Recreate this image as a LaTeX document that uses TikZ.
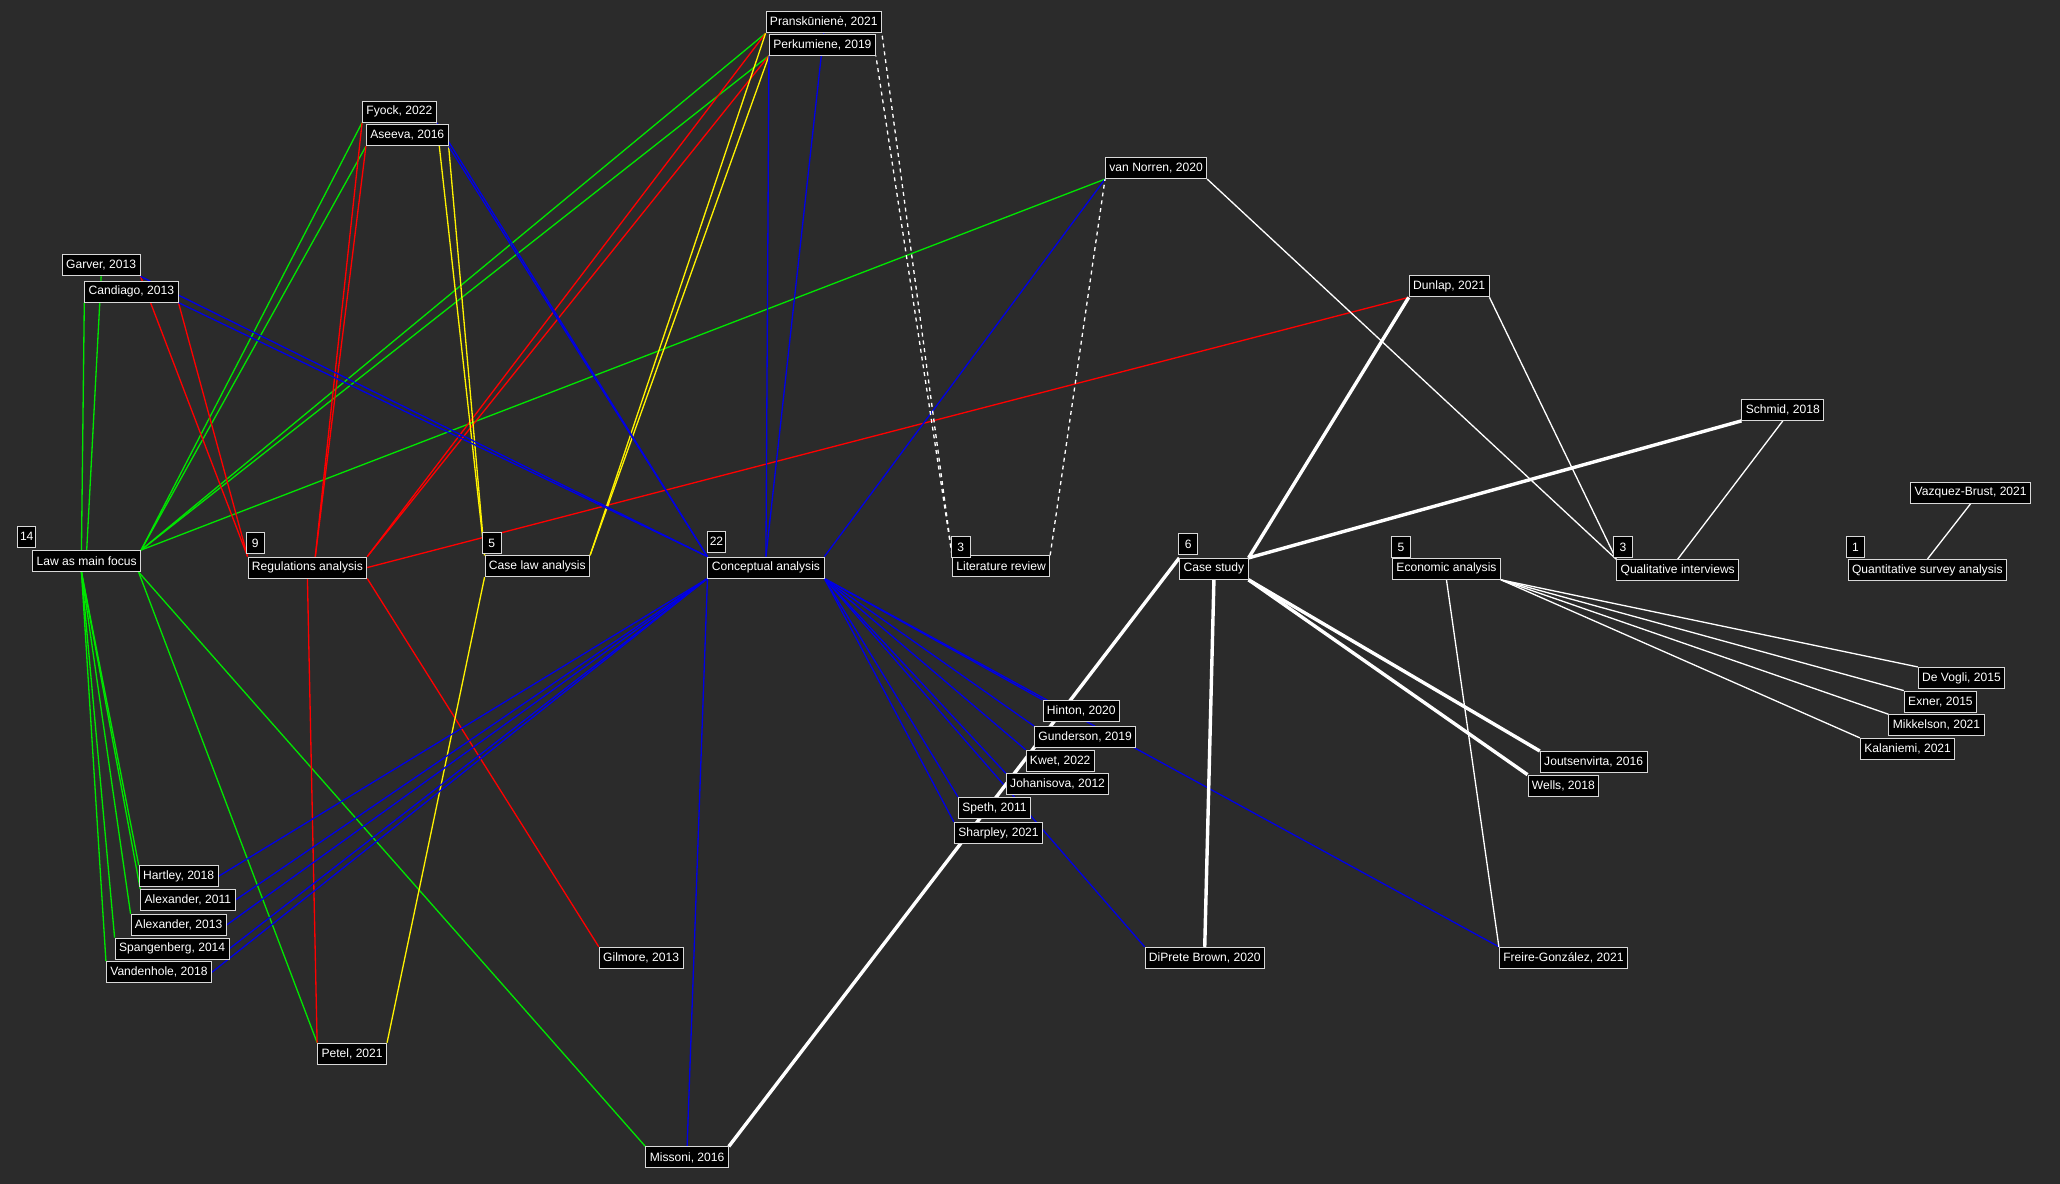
\documentclass[tikz,border=0pt]{standalone}
\usepackage{fontspec}
\setmainfont{Liberation Sans}
\usetikzlibrary{backgrounds}
\begin{document}
\begin{tikzpicture}[x=1pt,y=-1pt,
 nd/.style={draw=white!85!black,fill=black,text=white,font=\fontsize{9.2}{10}\selectfont,inner xsep=3pt,inner ysep=0pt,minimum height=16pt,line width=0.7pt},
 bd/.style={nd,minimum width=14pt,inner xsep=1.5pt,anchor=north west},
 gr/.style={draw={rgb,255:red,0;green,230;blue,0},line width=1pt},
 rd/.style={draw=red,line width=1pt},
 yl/.style={draw=yellow,line width=1pt},
 bl/.style={draw={rgb,255:red,0;green,0;blue,230},line width=1pt},
 wd/.style={draw=white,line width=1pt,dashed},
 wt/.style={draw=white,line width=2.6pt},
 wn/.style={draw=white,line width=1pt}]
% nodes
\node[nd] (pra) at (627,17) {Pranskūnienė, 2021};
\node[nd] (per) at (626,34) {Perkumiene, 2019};
\node[nd] (fyo) at (304,85) {Fyock, 2022};
\node[nd] (ase) at (310,103) {Aseeva, 2016};
\node[nd] (van) at (880,128) {van Norren, 2020};
\node[nd] (gar) at (77,202) {Garver, 2013};
\node[nd] (can) at (100,222) {Candiago, 2013};
\node[nd] (dun) at (1103,218) {Dunlap, 2021};
\node[nd] (sch) at (1357,312) {Schmid, 2018};
\node[nd] (vaz) at (1500,375) {Vazquez-Brust, 2021};
\node[nd] (law) at (66,427) {Law as main focus};
\node[nd] (reg) at (234,432) {Regulations analysis};
\node[nd] (cla) at (409,431) {Case law analysis};
\node[nd] (con) at (583,432) {Conceptual analysis};
\node[nd] (lit) at (762,431) {Literature review};
\node[nd] (cas) at (924,433) {Case study};
\node[nd] (eco) at (1101,433) {Economic analysis};
\node[nd] (qua) at (1277,434) {Qualitative interviews};
\node[nd] (qsa) at (1467,434) {Quantitative survey analysis};
\node[nd] (dev) at (1493,516) {De Vogli, 2015};
\node[nd] (exn) at (1477,534) {Exner, 2015};
\node[nd] (mik) at (1474,552) {Mikkelson, 2021};
\node[nd] (kal) at (1452,570) {Kalaniemi, 2021};
\node[nd] (hin) at (823,541) {Hinton, 2020};
\node[nd] (gun) at (826,561) {Gunderson, 2019};
\node[nd] (kwe) at (807,579) {Kwet, 2022};
\node[nd] (joh) at (805,597) {Johanisova, 2012};
\node[nd] (jou) at (1213,580) {Joutsenvirta, 2016};
\node[nd] (wel) at (1190,598) {Wells, 2018};
\node[nd] (spe) at (757,615) {Speth, 2011};
\node[nd] (sha) at (760,634) {Sharpley, 2021};
\node[nd] (har) at (136,667) {Hartley, 2018};
\node[nd] (ala) at (143,685) {Alexander, 2011};
\node[nd] (alb) at (136,704) {Alexander, 2013};
\node[nd] (spa) at (131,722) {Spangenberg, 2014};
\node[nd] (vnd) at (121,740) {Vandenhole, 2018};
\node[nd] (gil) at (488,729) {Gilmore, 2013};
\node[nd] (dip) at (917,729) {DiPrete Brown, 2020};
\node[nd] (fre) at (1190,729) {Freire-González, 2021};
\node[nd] (pet) at (268,802) {Petel, 2021};
\node[nd] (mis) at (523,881) {Missoni, 2016};
% badges
\node[bd] (b1) at (13,400) {14};
\node[bd] (b2) at (187,405) {9};
\node[bd] (b3) at (367,405) {5};
\node[bd] (b4) at (538,404) {22};
\node[bd] (b5) at (724,408) {3};
\node[bd] (b6) at (897,406) {6};
\node[bd] (b7) at (1059,408) {5};
\node[bd] (b8) at (1228,408) {3};
\node[bd] (b9) at (1405,408) {1};
\begin{pgfonlayer}{background}
\fill[black!83] (0,0) rectangle (1568,901);
% green
\foreach \t in {fyo,ase,pra,per,van} \draw[gr] (law.north east) -- (\t.south west);
\draw[gr] (law.north) -- (gar.south);
\draw[gr] ([xshift=-4pt]law.north) -- (can.south west);
\foreach \t in {har,ala,alb,spa,vnd} \draw[gr] ([xshift=-4pt]law.south) -- (\t.north west);
\draw[gr] ([xshift=-2pt]law.south east) -- (pet.north west);
\draw[gr] ([xshift=-2pt]law.south east) -- (mis.north west);
% red
\draw[rd] ([xshift=6pt]reg.north) -- (fyo.south west);
\draw[rd] ([xshift=6pt]reg.north) -- (ase.south west);
\draw[rd] (reg.north west) -- (gar.south east);
\draw[rd] (reg.north west) -- (can.south east);
\draw[rd] (reg.north east) -- (pra.south west);
\draw[rd] (reg.north east) -- (per.south west);
\draw[rd] (reg.east) -- (dun.south west);
\draw[rd] (reg.south east) -- (gil.north west);
\draw[rd] (reg.south) -- (pet.north west);
% yellow
\draw[yl] (cla.north west) -- (fyo.south east);
\draw[yl] (cla.north west) -- (ase.south east);
\draw[yl] (cla.north east) -- (pra.south west);
\draw[yl] (cla.north east) -- (per.south west);
\draw[yl] (cla.south west) -- (pet.north east);
% blue
\foreach \t in {fyo,ase,gar,can} \draw[bl] (con.north west) -- (\t.south east);
\draw[bl] (con.north) -- (per.south west);
\draw[bl] (con.north) -- (pra.south);
\draw[bl] (con.north east) -- (van.south west);
\foreach \t in {hin,gun,kwe,joh,spe,sha,dip,fre} \draw[bl] (con.south east) -- (\t.north west);
\foreach \t in {har,ala,alb,spa,vnd} \draw[bl] (con.south west) -- (\t.east);
\draw[bl] (con.south west) -- (mis.north);
% literature review
\draw[wd] (lit.north west) -- (pra.south east);
\draw[wd] (lit.north west) -- (per.south east);
\draw[wd] (lit.north east) -- (van.south west);
% case study
\draw[wt] (cas.north east) -- (dun.south west);
\draw[wt] (cas.north east) -- (sch.south west);
\draw[wt] (cas.north west) -- (mis.north east);
\draw[wt] (cas.south) -- (dip.north);
\draw[wt] (cas.south east) -- (jou.north west);
\draw[wt] (cas.south east) -- (wel.north west);
% economic
\foreach \t in {dev,exn,mik,kal} \draw[wn] (eco.south east) -- (\t.north west);
\draw[wn] (eco.south) -- (fre.north west);
% qualitative
\draw[wn] (van.south east) -- (qua.north west);
\draw[wn] (dun.south east) -- (qua.north west);
\draw[wn] (sch.south) -- (qua.north);
\draw[wn] (vaz.south) -- (qsa.north);
\end{pgfonlayer}
\useasboundingbox (0,0) rectangle (1568,901);
\end{tikzpicture}
\end{document}
